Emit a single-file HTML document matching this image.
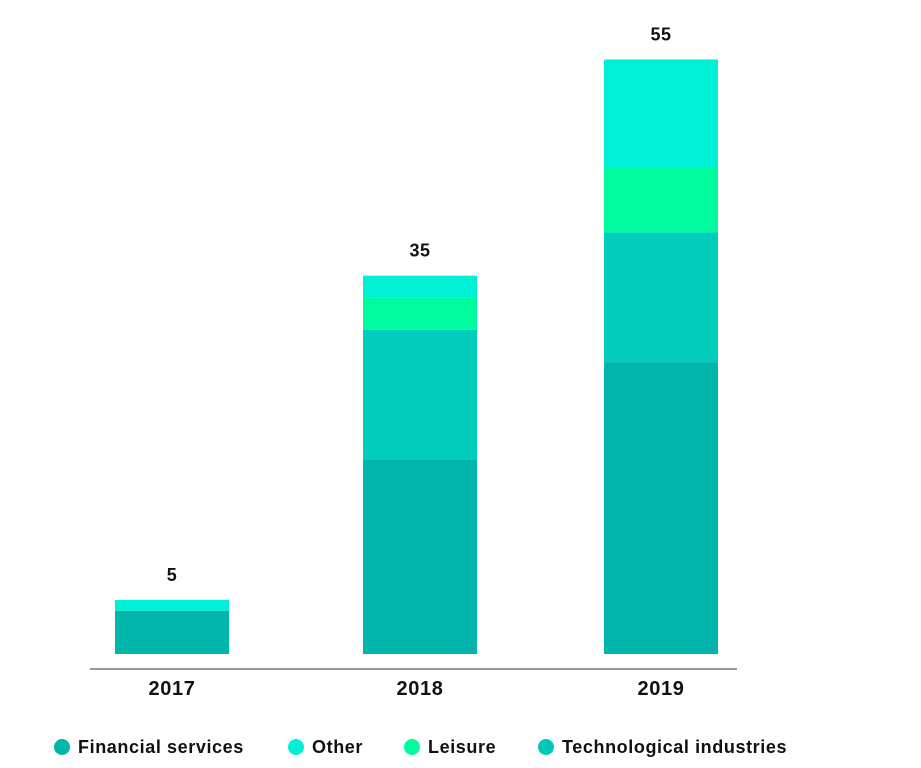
<!DOCTYPE html>
<html><head><meta charset="utf-8">
<style>
body{margin:0;background:#fff;font-family:"Liberation Sans",sans-serif;}
svg{display:block}
</style></head>
<body>
<svg id="chart" width="921" height="768">
<line x1="90" y1="669" x2="737" y2="669" stroke="#333" stroke-width="1"/>
</svg>
<script>
const categories = ["2017","2018","2019"];
const seriesNames = ["Financial services","Technological industries","Leisure","Other"];
const financial = [4,18,27];
const tech = [0,12,12];
const leisure = [0,3,6];
const other = [1,2,10];
const totals = [5,35,55];
const colors = ["#00b5a9","#00cdbb","#00fa9e","#00f0d5"];
const svg = document.getElementById('chart');
const NS = "http://www.w3.org/2000/svg";
const baseY = 654, pxPerUnit = 10.81;
const barLeft = [115,363,604], barW = 114;
function yScale(v){ return baseY - v*pxPerUnit; }
function xScale(i){ return barLeft[i]; }
const series = [financial, tech, leisure, other];
categories.forEach((c,i)=>{
  let acc = 0;
  series.forEach((s,k)=>{
    const v = s[i];
    if(v>0){
      const r = document.createElementNS(NS,'rect');
      r.setAttribute('x', xScale(i));
      r.setAttribute('y', yScale(acc+v));
      r.setAttribute('width', barW);
      r.setAttribute('height', yScale(acc)-yScale(acc+v));
      r.setAttribute('fill', colors[k]);
      
      
      svg.appendChild(r);
    }
    acc += v;
  });
  const t = document.createElementNS(NS,'text');
  t.setAttribute('x', xScale(i)+barW/2);
  t.setAttribute('y', yScale(totals[i])-19);
  t.setAttribute('text-anchor','middle');
  t.setAttribute('font-size','18');
  t.setAttribute('font-weight','bold');
  t.setAttribute('letter-spacing','0.5');
  t.setAttribute('fill','#111');
  t.textContent = totals[i];
  
  
  svg.appendChild(t);
  const l = document.createElementNS(NS,'text');
  l.setAttribute('x', xScale(i)+barW/2);
  l.setAttribute('y', 695);
  l.setAttribute('text-anchor','middle');
  l.setAttribute('font-size','20');
  l.setAttribute('font-weight','bold');
  l.setAttribute('letter-spacing','0.6');
  l.setAttribute('fill','#111');
  l.textContent = c;
  
  
  svg.appendChild(l);
});
const legend = [["Financial services","#00b5a9",62],["Other","#00f0d5",296],["Leisure","#00fa9e",412],["Technological industries","#00c8b8",546]];
legend.forEach(([name,col,x])=>{
  const g = document.createElementNS(NS,'g');
  
  
  const ci = document.createElementNS(NS,'circle');
  ci.setAttribute('cx', x); ci.setAttribute('cy', 747); ci.setAttribute('r', 8);
  ci.setAttribute('fill', col);
  g.appendChild(ci);
  const t = document.createElementNS(NS,'text');
  t.setAttribute('x', x+16); t.setAttribute('y', 753);
  t.setAttribute('font-size','18'); t.setAttribute('font-weight','bold'); t.setAttribute('fill','#111');
  t.setAttribute('letter-spacing','0.6');
  t.textContent = name;
  g.appendChild(t);
  svg.appendChild(g);
});
</script>
</body></html>
